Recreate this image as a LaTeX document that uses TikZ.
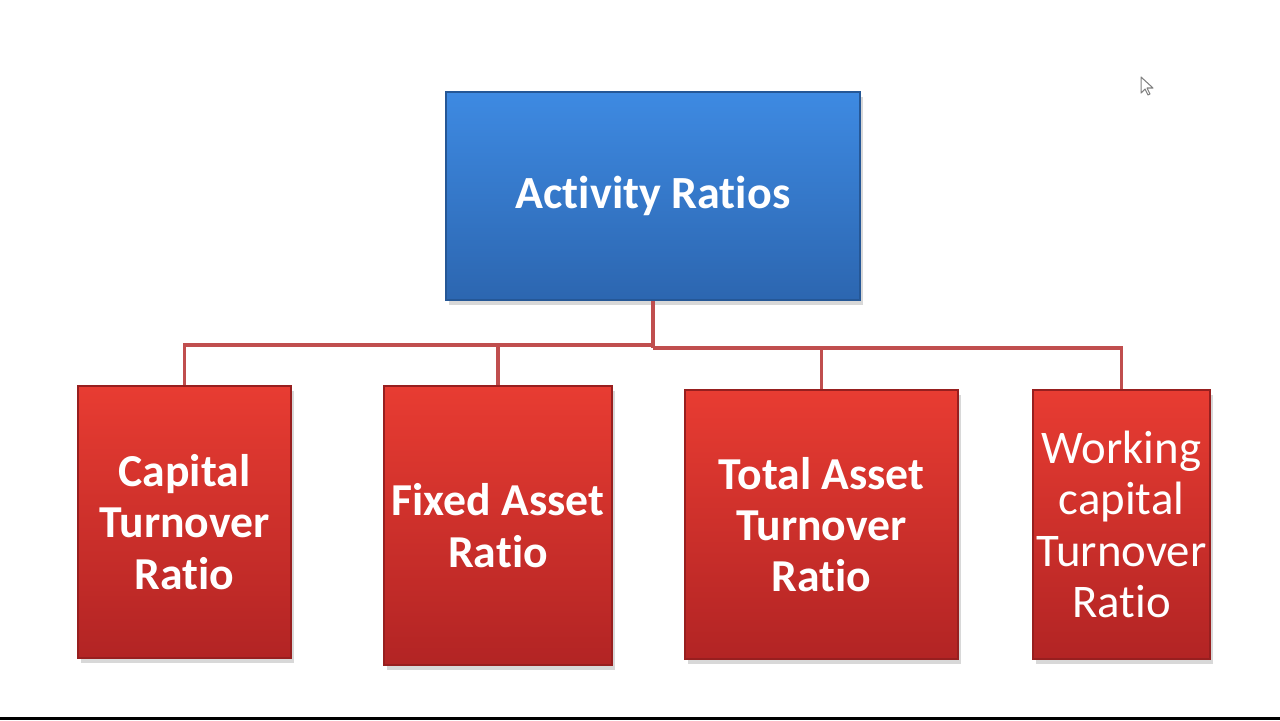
\documentclass[tikz,border=0pt]{standalone}
\usepackage{fontspec}
\setmainfont[Ligatures={NoCommon,NoRare,NoContextual},Contextuals={NoAlternate},RawFeature={-liga;-clig;-dlig;-calt}]{Carlito}
\usetikzlibrary{shadows}
\definecolor{redtop}{RGB}{232,60,50}
\definecolor{redbot}{RGB}{178,36,36}
\definecolor{bluetop}{RGB}{62,138,226}
\definecolor{bluebot}{RGB}{44,102,176}
\definecolor{linkred}{RGB}{192,78,78}
\tikzset{
  headbox/.style={rectangle, top color=bluetop, bottom color=bluebot, draw=bluebot!85!black, line width=0.4pt,
    text=white, font=\fontsize{13.1}{16}\selectfont\bfseries, align=center,
    drop shadow={shadow xshift=0.3mm, shadow yshift=-0.5mm, opacity=0.3}},
  ratiobox/.style={rectangle, top color=redtop, bottom color=redbot, draw=redbot!85!black, line width=0.4pt,
    text=white, font=\fontsize{13.0}{14.6}\selectfont\bfseries, align=center, inner sep=0pt,
    drop shadow={shadow xshift=0.3mm, shadow yshift=-0.5mm, opacity=0.3}},
  link/.style={draw=linkred, line width=0.9pt}
}
\begin{document}
\begin{tikzpicture}[x=0.01cm,y=-0.01cm]
\fill[white] (0,0) rectangle (1280,720);
\useasboundingbox (0,0) rectangle (1280,720);
\fill[black] (0,717) rectangle (1280,720);
% top box
\node[headbox, minimum width=4.14cm, minimum height=2.08cm] (act) at (653,196){Activity Ratios};
% ratio boxes
\node[ratiobox, minimum width=2.13cm, minimum height=2.72cm] (cap) at (184.5,522){Capital\\Turnover\\Ratio};
\node[ratiobox, minimum width=2.28cm, minimum height=2.79cm] (fix) at (498,525.5){Fixed Asset\\Ratio};
\node[ratiobox, minimum width=2.73cm, minimum height=2.69cm] (tot) at (821.5,524.5){Total Asset\\Turnover\\Ratio};
\node[ratiobox, minimum width=1.77cm, minimum height=2.69cm, font=\fontsize{13.3}{14.6}\selectfont] (wor) at (1121.5,524.5){Working\\capital\\Turnover\\Ratio};
% connectors
\coordinate (jl) at (653,345);
\coordinate (jr) at (653,348);
\draw[link] (act.south) -- (jr);
\draw[link] (cap.north) |- (jl);
\draw[link] (fix.north) -- (fix.north |- jl);
\draw[link] (wor.north) |- (jr);
\draw[link] (tot.north) -- (tot.north |- jr);
% pointer
\draw[gray, fill=white, line width=0.3pt, line join=round] (1141,77) -- (1141,93) -- (1145,89) -- (1148,95) -- (1150,94) -- (1147,88) -- (1153,88) -- cycle;
\end{tikzpicture}
\end{document}
